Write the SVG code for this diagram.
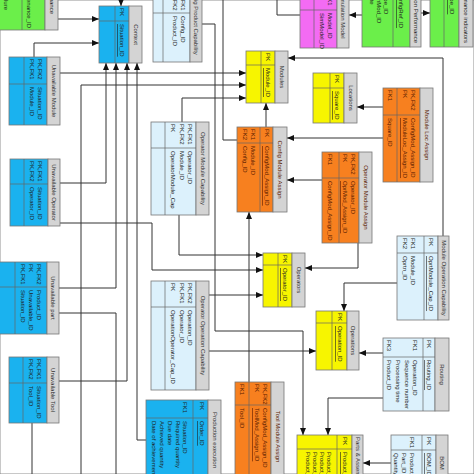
<svg xmlns="http://www.w3.org/2000/svg" width="474" height="474" viewBox="0 0 474 474">
<style>
rect{stroke:#777;stroke-width:0.8}
.b{fill:#1ab2ef}.lb{fill:#dcf1fc}.o{fill:#f7801f}.y{fill:#f7f500}.m{fill:#f36bf3}.g{fill:#6bef4a}.h{fill:#d4d4d4}
.ln{stroke:#666;stroke-width:0.7;fill:none}
text{font-family:"Liberation Sans",Arial,sans-serif;font-size:6px;fill:#1e1e1e;dominant-baseline:central}
.ot text{fill:#5a1a00}
.t{text-anchor:middle;fill:#333}
.e{text-anchor:end}
.u{text-decoration:underline}
.c{stroke:#333;stroke-width:1;fill:none}
.a{marker-end:url(#ar)}
</style>
<defs>
<marker id="ar" markerWidth="7" markerHeight="6" refX="7" refY="3" orient="auto" markerUnits="userSpaceOnUse"><path d="M0,0L7,3L0,6z" fill="#111"/></marker>
</defs>
<rect x="0" y="0" width="474" height="474" fill="#fff" stroke="none"/>
<g id="connectors">
<path class="c a" d="M58 19H99"/>
<path class="c a" d="M121 0V6"/>
<path class="c a" d="M34 57V43H99"/>
<path class="c a" d="M60 183H106V63"/>
<path class="c a" d="M59 288H116V63"/>
<path class="c" d="M59 313H116V474"/>
<path class="c a" d="M59 381H127V63"/>
<path class="c a" d="M146 440H137V63"/>
<path class="c" d="M32 423V474"/>
<path class="c a" d="M60 73H246"/>
<path class="c a" d="M81 474V85H246"/>
<path class="c a" d="M182 122V98H246"/>
<path class="c a" d="M60 223H152V270H263"/>
<path class="c a" d="M179 215V255H263"/>
<path class="c a" d="M209 295H263"/>
<path class="c a" d="M209 351H316"/>
<path class="c a" d="M202 24H215V331H303V435"/>
<path class="c" d="M237 140H223V0"/>
<path class="c" d="M300 15H277V0"/>
<path class="c a" d="M362 15H349"/>
<path class="c a" d="M421 13H430"/>
<path class="c a" d="M443 236V58H288"/>
<path class="c a" d="M383 107H357"/>
<path class="c a" d="M383 138H287"/>
<path class="c a" d="M322 180H287"/>
<path class="c a" d="M266 127V103"/>
<path class="c a" d="M249 382V212"/>
<path class="c a" d="M358 243V268H305"/>
<path class="c a" d="M397 283H344V311"/>
<path class="c a" d="M383 353H359"/>
<path class="c a" d="M383 398H328V435"/>
<path class="c a" d="M391 463H363"/>
</g>
<g id="maintenance">
<rect class="g" x="-5" y="-40" width="50" height="70"/><rect class="h" x="45" y="-40" width="13" height="70"/>
<path class="ln" d="M22 -40V30M-5 -20H45"/>
<text class="e" transform="translate(29,28)rotate(90)">Maintenance_ID</text>
<text class="e" transform="translate(6,10)rotate(90)">Failure</text>
<text class="e" transform="translate(51.5,14)rotate(90)">Maintenance</text>
</g>
<g id="context">
<rect class="b" x="99" y="6" width="30" height="57"/><rect class="h" x="129" y="6" width="13" height="57"/>
<path class="ln" d="M115 6V63M99 21H129"/>
<text transform="translate(122,8)rotate(90)">PK</text>
<text class="u" transform="translate(122,24)rotate(90)">Situation_ID</text>
<text class="t" transform="translate(135.5,34.5)rotate(90)">Context</text>
</g>
<g id="unavailable-module">
<rect class="b" x="9" y="57" width="38" height="68"/><rect class="h" x="47" y="57" width="13" height="68"/>
<path class="ln" d="M24 57V125M9 84H47"/>
<text transform="translate(39.5,59)rotate(90)">PK,FK2</text>
<text transform="translate(31.5,59)rotate(90)">PK,FK1</text>
<text transform="translate(39.5,87)rotate(90)">Situation_ID</text>
<text transform="translate(31.5,87)rotate(90)">Module_ID</text>
<text class="t" transform="translate(53.5,91)rotate(90)">Unavailable Module</text>
</g>
<g id="unavailable-operator">
<rect class="b" x="10" y="159" width="38" height="67"/><rect class="h" x="48" y="159" width="12" height="67"/>
<path class="ln" d="M24 159V226M10 184H48"/>
<text transform="translate(40,161)rotate(90)">PK,FK1</text>
<text transform="translate(32,161)rotate(90)">PK,FK2</text>
<text transform="translate(40,187)rotate(90)">Situation_ID</text>
<text transform="translate(32,187)rotate(90)">Operator_ID</text>
<text class="t" transform="translate(54,192.5)rotate(90)">Unavailable Operator</text>
</g>
<g id="unavailable-part">
<rect class="b" x="-3" y="262" width="50" height="72"/><rect class="h" x="47" y="262" width="12" height="72"/>
<path class="ln" d="M15 262V334M-3 287H47"/>
<text transform="translate(39,264)rotate(90)">PK,FK2</text>
<text transform="translate(31,264)rotate(90)">PK</text>
<text transform="translate(23,264)rotate(90)">PK,FK1</text>
<text transform="translate(39,290)rotate(90)">Product_ID</text>
<text transform="translate(31,290)rotate(90)">Unavailable_ID</text>
<text transform="translate(23,290)rotate(90)">Situation_ID</text>
<text class="t" transform="translate(53,298)rotate(90)">Unavailable part</text>
</g>
<g id="unavailable-tool">
<rect class="b" x="9" y="357" width="38" height="66"/><rect class="h" x="47" y="357" width="12" height="66"/>
<path class="ln" d="M23 357V423M9 383H47"/>
<text transform="translate(39,359)rotate(90)">PK,FK1</text>
<text transform="translate(31,359)rotate(90)">PK,FK2</text>
<text transform="translate(39,386)rotate(90)">Situation_ID</text>
<text transform="translate(31,386)rotate(90)">Tool_ID</text>
<text class="t" transform="translate(53,390)rotate(90)">Unavailable Tool</text>
</g>
<g id="config-product-capability">
<rect class="lb" x="153" y="-12" width="37" height="74"/><rect class="h" x="190" y="-12" width="12" height="74"/>
<path class="ln" d="M163 -12V62M153 13H190"/>
<text transform="translate(183,-10)rotate(90)">PK,FK1</text>
<text transform="translate(175,-10)rotate(90)">PK,FK2</text>
<text transform="translate(183,16)rotate(90)">Config_ID</text>
<text transform="translate(175,16)rotate(90)">Product_ID</text>
<text class="t" transform="translate(196,21)rotate(90)">Config Product Capability</text>
</g>
<g id="modules">
<rect class="y" x="246" y="51" width="29" height="52"/><rect class="h" x="275" y="51" width="13" height="52"/>
<path class="ln" d="M261 51V103M246 65H275"/>
<text transform="translate(268,53)rotate(90)">PK</text>
<text class="u" transform="translate(268,68)rotate(90)">Module_ID</text>
<text class="t" transform="translate(281.5,77)rotate(90)">Modules</text>
</g>
<g id="simulation-model">
<rect class="m" x="300" y="-17" width="37" height="65"/><rect class="h" x="337" y="-17" width="12" height="65"/>
<path class="ln" d="M314 -17V48M300 10H337"/>
<text transform="translate(330,-15)rotate(90)">PK,FK1</text>
<text transform="translate(322,-15)rotate(90)">PK</text>
<text transform="translate(330,13)rotate(90)">Model_ID</text>
<text transform="translate(322,13)rotate(90)">SimModel_ID</text>
<text class="t" transform="translate(343,15.5)rotate(90)">Simulation Model</text>
</g>
<g id="simulation-performance">
<rect class="g" x="362" y="-40" width="48" height="87"/><rect class="h" x="410" y="-40" width="11" height="87"/>
<path class="ln" d="M393 -40V47M362 -11H410"/>
<text class="u" transform="translate(401,-8)rotate(90)">ConfigRef_ID</text>
<text transform="translate(386,-8)rotate(90)">Type_ID</text>
<text transform="translate(379,-8)rotate(90)">SimMod_ID</text>
<text transform="translate(372,-8)rotate(90)">Date</text>
<text class="e" transform="translate(415.5,43)rotate(90)">Simulation Performance</text>
</g>
<g id="performance-indicators">
<rect class="g" x="430" y="-40" width="29" height="87"/><rect class="h" x="459" y="-40" width="14" height="87"/>
<path class="ln" d="M444 -40V47M430 -11H459"/>
<text class="u" transform="translate(452,-8)rotate(90)">Type_ID</text>
<text class="e" transform="translate(466,43)rotate(90)">Performance indicators</text>
</g>
<g id="locations">
<rect class="y" x="313" y="73" width="31" height="50"/><rect class="h" x="344" y="73" width="13" height="50"/>
<path class="ln" d="M330 73V123M313 88H344"/>
<text transform="translate(337,75)rotate(90)">PK</text>
<text class="u" transform="translate(337,91)rotate(90)">Square_ID</text>
<text class="t" transform="translate(350.5,98)rotate(90)">Locations</text>
</g>
<g id="module-loc-assign" class="ot">
<rect class="o" x="383" y="88" width="37" height="94"/><rect class="h" x="420" y="88" width="13" height="94"/>
<path class="ln" d="M397 88V182M383 115H420"/>
<text transform="translate(413,90)rotate(90)">PK,FK2</text>
<text transform="translate(405,90)rotate(90)">PK</text>
<text transform="translate(390,90)rotate(90)">FK1</text>
<text transform="translate(413,118)rotate(90)">ConfigMod_Assign_ID</text>
<text class="u" transform="translate(405,118)rotate(90)">ModuleLoc_Assign_ID</text>
<text transform="translate(390,118)rotate(90)">Square_ID</text>
<text class="t" transform="translate(426.5,135)rotate(90)">Module Loc Assign</text>
</g>
<g id="config-module-assign" class="ot">
<rect class="o" x="237" y="127" width="36" height="85"/><rect class="h" x="273" y="127" width="14" height="85"/>
<path class="ln" d="M260 127V212M237 143H273"/>
<text transform="translate(267,129)rotate(90)">PK</text>
<text transform="translate(253,129)rotate(90)">FK1</text>
<text transform="translate(245,129)rotate(90)">FK2</text>
<text class="u" transform="translate(267,146)rotate(90)">ConfigMod_Assign_ID</text>
<text transform="translate(253,146)rotate(90)">Module_ID</text>
<text transform="translate(245,146)rotate(90)">Config_ID</text>
<text class="t" transform="translate(280,169.5)rotate(90)">Config Module Assign</text>
</g>
<g id="operator-module-assign" class="ot">
<rect class="o" x="322" y="152" width="37" height="91"/><rect class="h" x="359" y="152" width="13" height="91"/>
<path class="ln" d="M339 152V243M322 178H359"/>
<text transform="translate(353,154)rotate(90)">PK,FK2</text>
<text transform="translate(345,154)rotate(90)">PK</text>
<text transform="translate(330,154)rotate(90)">FK1</text>
<text transform="translate(353,181)rotate(90)">Operator_ID</text>
<text class="u" transform="translate(345,181)rotate(90)">OprMod_Assign_ID</text>
<text transform="translate(330,181)rotate(90)">ConfigMod_Assign_ID</text>
<text class="t" transform="translate(365.5,197.5)rotate(90)">Operator Module Assign</text>
</g>
<g id="operator-module-capability">
<rect class="lb" x="151" y="122" width="45" height="93"/><rect class="h" x="196" y="122" width="13" height="93"/>
<path class="ln" d="M165 122V215M151 148H196"/>
<text transform="translate(190,124)rotate(90)">PK,FK1</text>
<text transform="translate(182,124)rotate(90)">PK,FK2</text>
<text transform="translate(173,124)rotate(90)">PK</text>
<text transform="translate(190,151)rotate(90)">Operator_ID</text>
<text transform="translate(182,151)rotate(90)">Module_ID</text>
<text transform="translate(173,151)rotate(90)">OperatorModule_Cap</text>
<text class="t" transform="translate(202.5,168.5)rotate(90)">Operator Module Capability</text>
</g>
<g id="operators">
<rect class="y" x="263" y="253" width="29" height="54"/><rect class="h" x="292" y="253" width="13" height="54"/>
<path class="ln" d="M278 253V307M263 265H292"/>
<text transform="translate(285,255)rotate(90)">PK</text>
<text class="u" transform="translate(285,268)rotate(90)">Operator_ID</text>
<text class="t" transform="translate(298.5,280)rotate(90)">Operators</text>
</g>
<g id="operator-operation-capability">
<rect class="lb" x="151" y="281" width="45" height="109"/><rect class="h" x="196" y="281" width="13" height="109"/>
<path class="ln" d="M165 281V390M151 307H196"/>
<text transform="translate(190,283)rotate(90)">PK,FK2</text>
<text transform="translate(182,283)rotate(90)">PK,FK1</text>
<text transform="translate(173,283)rotate(90)">PK</text>
<text transform="translate(190,310)rotate(90)">Operation_ID</text>
<text transform="translate(182,310)rotate(90)">Operator_ID</text>
<text transform="translate(173,310)rotate(90)">OperationOperator_Cap_ID</text>
<text class="t" transform="translate(202.5,335.5)rotate(90)">Operator Operation Capability</text>
</g>
<g id="module-operation-capability">
<rect class="lb" x="397" y="236" width="41" height="84"/><rect class="h" x="438" y="236" width="11" height="84"/>
<path class="ln" d="M424 236V320M397 253H438"/>
<text transform="translate(431,238)rotate(90)">PK</text>
<text transform="translate(413,238)rotate(90)">FK1</text>
<text transform="translate(405,238)rotate(90)">FK2</text>
<text class="u" transform="translate(431,256)rotate(90)">OprtModule_Cap_ID</text>
<text transform="translate(413,256)rotate(90)">Module_ID</text>
<text transform="translate(405,256)rotate(90)">Oprtn_ID</text>
<text class="t" transform="translate(443.5,278)rotate(90)">Module Operation Capability</text>
</g>
<g id="operations">
<rect class="y" x="316" y="311" width="31" height="59"/><rect class="h" x="347" y="311" width="12" height="59"/>
<path class="ln" d="M332 311V370M316 323H347"/>
<text transform="translate(340,313)rotate(90)">PK</text>
<text class="u" transform="translate(340,326)rotate(90)">Operation_ID</text>
<text class="t" transform="translate(353,340.5)rotate(90)">Operations</text>
</g>
<g id="routing">
<rect class="lb" x="383" y="338" width="52" height="73"/><rect class="h" x="435" y="338" width="14" height="73"/>
<path class="ln" d="M423 338V411M383 357H435"/>
<text transform="translate(429,340)rotate(90)">PK</text>
<text transform="translate(415,340)rotate(90)">FK1</text>
<text transform="translate(389,340)rotate(90)">FK3</text>
<text class="u" transform="translate(429,360)rotate(90)">Routing_ID</text>
<text transform="translate(415,360)rotate(90)">Operation_ID</text>
<text transform="translate(407,360)rotate(90)">Sequence number</text>
<text transform="translate(398,360)rotate(90)">Processing time</text>
<text transform="translate(389,360)rotate(90)">Product_ID</text>
<text class="t" transform="translate(442,374.5)rotate(90)">Routing</text>
</g>
<g id="parts-assembly">
<rect class="y" x="297" y="435" width="55" height="60"/><rect class="h" x="352" y="435" width="11" height="60"/>
<path class="ln" d="M337 435V495M297 449H352"/>
<text transform="translate(345,437)rotate(90)">PK</text>
<text class="u" transform="translate(345,452)rotate(90)">Product_ID</text>
<text transform="translate(329,452)rotate(90)">Product_Name</text>
<text transform="translate(322,452)rotate(90)">Product_Type</text>
<text transform="translate(315,452)rotate(90)">Product_Family</text>
<text transform="translate(308,452)rotate(90)">Product_Cost</text>
<text transform="translate(357.5,437)rotate(90)" style="fill:#333">Parts &amp; Assembly</text>
</g>
<g id="bom">
<rect class="lb" x="391" y="435" width="45" height="60"/><rect class="h" x="436" y="435" width="12" height="60"/>
<path class="ln" d="M422 435V495M391 450H436"/>
<text transform="translate(429,437)rotate(90)">PK</text>
<text transform="translate(412,437)rotate(90)">FK1</text>
<text class="u" transform="translate(429,453)rotate(90)">BOM_ID</text>
<text transform="translate(412,453)rotate(90)">Product_ID</text>
<text transform="translate(404,453)rotate(90)">Part_ID</text>
<text transform="translate(396,453)rotate(90)">Quantity</text>
<text class="t" transform="translate(442,463)rotate(90)">BOM</text>
</g>
<g id="tool-module-assign" class="ot">
<rect class="o" x="235" y="382" width="36" height="110"/><rect class="h" x="271" y="382" width="13" height="110"/>
<path class="ln" d="M249 382V492M235 405H271"/>
<text transform="translate(265,384)rotate(90)">PK,FK2</text>
<text transform="translate(257,384)rotate(90)">PK</text>
<text transform="translate(242,384)rotate(90)">FK1</text>
<text transform="translate(265,408)rotate(90)">ConfigMod_Assign_ID</text>
<text class="u" transform="translate(257,408)rotate(90)">ToolMod_Assign_ID</text>
<text transform="translate(242,408)rotate(90)">Tool_ID</text>
<text class="t" transform="translate(277.5,436.5)rotate(90)">Tool Module Assign</text>
</g>
<g id="production-execution">
<rect class="b" x="146" y="400" width="62" height="100"/><rect class="h" x="208" y="400" width="13" height="100"/>
<path class="ln" d="M193 400V500M146 418H208"/>
<text transform="translate(202,402)rotate(90)">PK</text>
<text transform="translate(185,402)rotate(90)">FK1</text>
<text class="u" transform="translate(202,421)rotate(90)">Order_ID</text>
<text transform="translate(185,421)rotate(90)">Situation_ID</text>
<text transform="translate(177.5,421)rotate(90)">Required quantity</text>
<text transform="translate(170,421)rotate(90)">Due date</text>
<text transform="translate(162,421)rotate(90)">Achieved quantity</text>
<text transform="translate(154,421)rotate(90)">Date of achievement</text>
<text class="t" transform="translate(214.5,440)rotate(90)">Production execution</text>
</g>
</svg>
